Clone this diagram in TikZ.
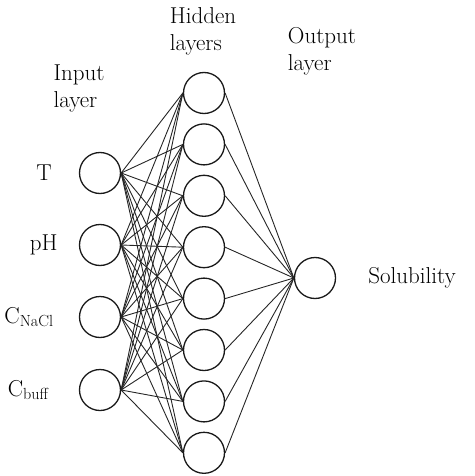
\documentclass[tikz,border=0pt]{standalone}
\usetikzlibrary{positioning}
\begin{document}
\begin{tikzpicture}[x=1pt,y=-1pt,
    neuron/.style={circle,draw=black!90,line width=1.3pt,minimum size=41pt,inner sep=0pt},
    link/.style={draw=black!85,line width=0.9pt},
    lbl/.style={font=\fontsize{23}{27}\selectfont,align=left,inner sep=0pt}]
  \useasboundingbox (0,0) rectangle (474,476);
  % neurons
  \foreach \i/\y in {1/173,2/245,3/317,4/390}
    \node[neuron] (in\i) at (100,\y) {};
  \foreach \j in {1,...,8}
    \node[neuron] (hid\j) at (204,{93+51.4*(\j-1)}) {};
  \node[neuron] (out) at (315,278) {};
  % connections
  \foreach \i in {1,...,4}
    \foreach \j in {1,...,8}
      \draw[link] (in\i.east) -- (hid\j.west);
  \foreach \j in {1,...,8}
    \draw[link] (hid\j.east) -- (out.west);
  % layer titles
  \node[lbl] (inlayer) at (79,88) {Input\\layer};
  \node[lbl] (hidlayer) at (203,31) {Hidden\\layers};
  \node[lbl] (outlayer) at (322,51) {Output\\layer};
  % variables
  \node[lbl,left=27pt of in1] (tlbl) {T};
  \node[lbl,left=21pt of in2] (phlbl) {pH};
  \node[lbl,left=25pt of in3] (nacllbl) {C\textsubscript{NaCl}};
  \node[lbl,left=30pt of in4] (bufflbl) {C\textsubscript{buff}};
  \node[lbl,right=32pt of out] (sollbl) {Solubility};
\end{tikzpicture}
\end{document}
